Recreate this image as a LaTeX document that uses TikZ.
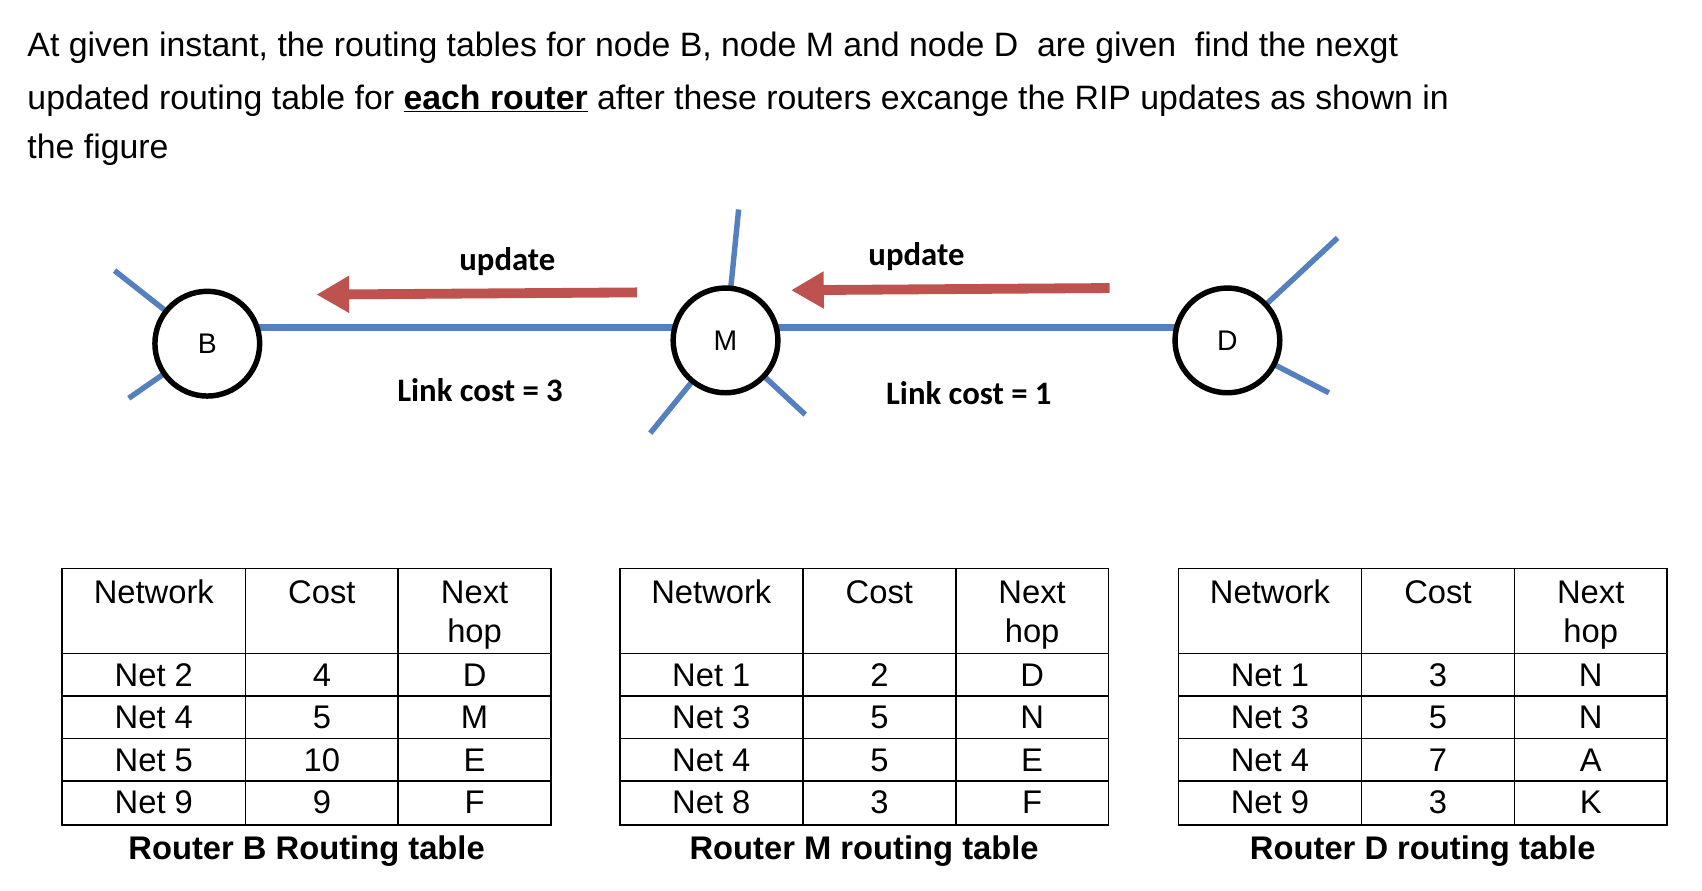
\documentclass[tikz,border=0pt]{standalone}
\usepackage{fontspec}
\setmainfont{Liberation Sans}
\newfontfamily\calfont{Carlito}
\usetikzlibrary{arrows.meta}
\definecolor{lnk}{HTML}{5580BE}
\definecolor{arr}{HTML}{BE524E}
\tikzset{
 txt/.style={font=\fontsize{31}{40}\selectfont,inner sep=0},
 cell/.style={font=\fontsize{30}{36}\selectfont,inner sep=0,align=center},
 tcap/.style={font=\fontsize{30}{36}\selectfont\bfseries,inner sep=0},
 lbl/.style={font=\fontsize{30}{36}\selectfont\calfont\bfseries,inner sep=0},
 router/.style={circle,draw=black,line width=5pt,minimum size=96pt,fill=white,font=\fontsize{26}{30}\selectfont},
 wire/.style={lnk,line width=6pt},
 stub/.style={lnk,line width=5pt},
 upd/.style={arr,line width=9pt,-{Triangle[length=30pt,width=32pt]}},
}
\begin{document}
\begin{tikzpicture}[x=1pt,y=-1pt]
\useasboundingbox[fill=white] (0,0) rectangle (1560,816);
\node[txt,anchor=base west] (t1) at (25,52) {At given instant, the routing tables for node B, node M and node D\ \ are given\ \ find the nexgt};
\node[txt,anchor=base west] (t2) at (25,100) {updated routing table for \textbf{\underline{each router}} after these routers excange the RIP updates as shown in};
\node[txt,anchor=base west] (t3) at (25,145) {the figure};
\coordinate (b1) at (105,248); \coordinate (b2) at (118,365);
\coordinate (m1) at (677,192); \coordinate (m2) at (596,397); \coordinate (m3) at (738,380);
\coordinate (d1) at (1226,218); \coordinate (d2) at (1218,360);
\coordinate (B) at (190,315); \coordinate (M) at (665,312); \coordinate (D) at (1125,312);
\draw[wire] (B |- 0,300) -- (M |- 0,300);
\draw[wire] (M |- 0,300) -- (D |- 0,300);
\draw[stub] (b1) -- (B); \draw[stub] (b2) -- (B);
\draw[stub] (m1) -- (M); \draw[stub] (m2) -- (M); \draw[stub] (m3) -- (M);
\draw[stub] (d1) -- (D); \draw[stub] (d2) -- (D);
\node[router] (nB) at (B) {B};
\node[router] (nM) at (M) {M};
\node[router] (nD) at (D) {D};
\coordinate (a1s) at (584,268); \coordinate (a1e) at (290,270);
\coordinate (a2s) at (1017,264); \coordinate (a2e) at (725,266);
\draw[upd] (a1s) -- (a1e);
\draw[upd] (a2s) -- (a2e);
\node[lbl] (u1) at (465,240) {update};
\node[lbl] (u2) at (840,235) {update};
\node[lbl] (c1) at (440,358) {Link cost = 3};
\node[lbl] (c2) at (888,360) {Link cost = 1};
\foreach \xa/\xb/\xc/\xd/\cp in {
 57/225/365/505/{Router B Routing table},
 568/736/876/1016/{Router M routing table},
 1080/1248/1388/1528/{Router D routing table}}{
 \draw[line width=1.5pt] (\xa,521) rectangle (\xd,756);
 \foreach \y in {599,638,677,716} \draw[line width=1.5pt] (\xa,\y) -- (\xd,\y);
 \foreach \x in {\xb,\xc} \draw[line width=1.5pt] (\x,521) -- (\x,756);
 \node[cell,anchor=base] at ({(\xa+\xb)/2},553) {Network};
 \node[cell,anchor=base] at ({(\xb+\xc)/2},553) {Cost};
 \node[cell,anchor=base] at ({(\xc+\xd)/2},553) {Next};
 \node[cell,anchor=base] at ({(\xc+\xd)/2},589) {hop};
 \node[tcap,anchor=base] at ({(\xa+\xd)/2},788) {\cp};
}
\foreach \xa/\xb/\xc/\xd/\y/\n/\c/\h in {
 57/225/365/505/629/Net 2/4/D, 57/225/365/505/668/Net 4/5/M, 57/225/365/505/707/Net 5/10/E, 57/225/365/505/746/Net 9/9/F,
 568/736/876/1016/629/Net 1/2/D, 568/736/876/1016/668/Net 3/5/N, 568/736/876/1016/707/Net 4/5/E, 568/736/876/1016/746/Net 8/3/F,
 1080/1248/1388/1528/629/Net 1/3/N, 1080/1248/1388/1528/668/Net 3/5/N, 1080/1248/1388/1528/707/Net 4/7/A, 1080/1248/1388/1528/746/Net 9/3/K}{
 \node[cell,anchor=base] at ({(\xa+\xb)/2},\y) {\n};
 \node[cell,anchor=base] at ({(\xb+\xc)/2},\y) {\c};
 \node[cell,anchor=base] at ({(\xc+\xd)/2},\y) {\h};
}
\end{tikzpicture}
\end{document}
